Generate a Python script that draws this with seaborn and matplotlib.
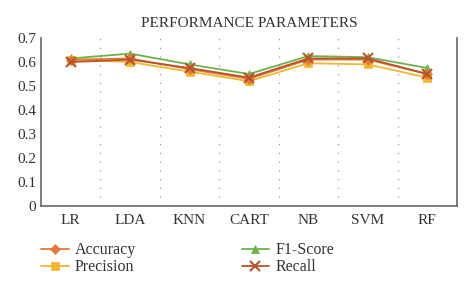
import numpy as np
import pandas as pd
import seaborn as sns
import matplotlib.pyplot as plt
from matplotlib.lines import Line2D

MODELS = ['LR', 'LDA', 'KNN', 'CART', 'NB', 'SVM', 'RF']
accuracy = [0.61, 0.615, 0.57, 0.53, 0.61, 0.61, 0.55]
precision = [0.61, 0.60, 0.56, 0.52, 0.595, 0.59, 0.535]
f1_score = [0.615, 0.635, 0.59, 0.55, 0.625, 0.62, 0.575]
recall = [0.60, 0.61, 0.575, 0.535, 0.615, 0.615, 0.55]

SERIES = ['Accuracy', 'Precision', 'F1-Score', 'Recall']
palette = {
    'Accuracy': '#E07B39',
    'Precision': '#F2B630',
    'F1-Score': '#6DB24F',
    'Recall': '#B9532A',
}
markers = {'Accuracy': 'D', 'Precision': 's', 'F1-Score': '^', 'Recall': 'x'}
msizes = {'Accuracy': 5, 'Precision': 6, 'F1-Score': 6, 'Recall': 7}

sns.set_style('white')
plt.rcParams['font.family'] = ['Liberation Serif', 'DejaVu Serif']

df = pd.DataFrame({
    'model': MODELS,
    'Accuracy': accuracy,
    'Precision': precision,
    'F1-Score': f1_score,
    'Recall': recall,
}).melt(id_vars='model', var_name='metric', value_name='value')
df['x'] = df['model'].map({m: i for i, m in enumerate(MODELS)})

fig = plt.figure(figsize=(4.74, 2.86), dpi=100)
ax = fig.add_axes([0.0865, 0.28, 0.8775, 0.587])

# draw in the order the reference layers them (F1 under, recall on top)
for name in ['F1-Score', 'Precision', 'Accuracy', 'Recall']:
    sub = df[df.metric == name]
    sns.lineplot(
        data=sub, x='x', y='value', ax=ax,
        color=palette[name], marker=markers[name],
        markersize=msizes[name], linewidth=1.3,
        markeredgecolor=palette[name],
        markeredgewidth=1.5 if name == 'Recall' else 0.5,
        legend=False,
    )

ax.set_xlim(-0.5, len(MODELS) - 0.5)
ax.set_ylim(0, 0.7)
ax.set_xticks(range(len(MODELS)))
ax.set_xticklabels(MODELS)
ax.set_xticks(np.arange(len(MODELS) - 1) + 0.5, minor=True)
ax.grid(axis='x', which='minor', linestyle=(0, (1, 6)), color='#999999', linewidth=0.9)
ax.grid(axis='x', which='major', visible=False)
ax.set_yticks(np.arange(0, 0.71, 0.1))
ax.set_yticklabels(['0'] + [f'{v:.1f}' for v in np.arange(0.1, 0.71, 0.1)])
ax.tick_params(axis='both', length=0, labelsize=11, colors='#333333')
ax.tick_params(axis='x', pad=6)
ax.set_xlabel('')
ax.set_ylabel('')

for side in ['left', 'bottom', 'right']:
    ax.spines[side].set_visible(True)
    ax.spines[side].set_color('#666666')
    ax.spines[side].set_linewidth(1.2)
ax.spines['top'].set_visible(False)

ax.set_title('PERFORMANCE PARAMETERS', fontsize=11, color='#333333', pad=8)

handles = [
    Line2D([0], [0], color=palette[n], marker=markers[n], markersize=msizes[n],
           markeredgewidth=1.5 if n == 'Recall' else 0.5, linewidth=1.3, label=n)
    for n in SERIES
]
fig.legend(
    handles=handles, ncol=2, loc='upper left', bbox_to_anchor=(0.057, 0.203),
    frameon=False, fontsize=11.5, handlelength=1.7, handletextpad=0.4,
    columnspacing=6.6, labelspacing=0.05, labelcolor='#333333',
)

fig.savefig('out.png', dpi=100)
